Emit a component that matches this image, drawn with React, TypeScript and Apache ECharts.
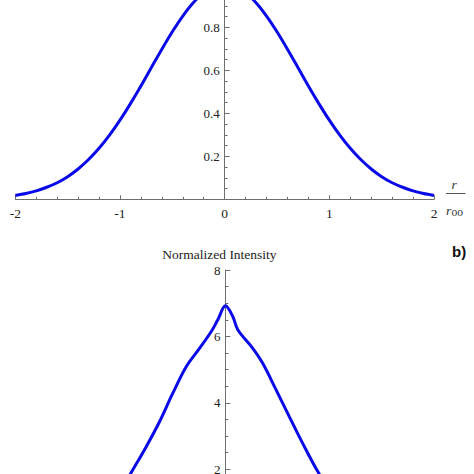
import React, { useEffect, useRef } from "react";
import * as echarts from "echarts";

// Top panel: Gaussian profile vs r / r_oo
const topX = [-2, -1.9, -1.8, -1.7, -1.6, -1.5, -1.4, -1.3, -1.2, -1.1, -1, -0.9, -0.8, -0.7, -0.6, -0.5, -0.4, -0.3, -0.2, -0.1, 0,
  0.1, 0.2, 0.3, 0.4, 0.5, 0.6, 0.7, 0.8, 0.9, 1, 1.1, 1.2, 1.3, 1.4, 1.5, 1.6, 1.7, 1.8, 1.9, 2];
const topY = [0.018, 0.027, 0.039, 0.056, 0.077, 0.105, 0.141, 0.185, 0.237, 0.298, 0.368, 0.445, 0.527, 0.613, 0.698, 0.779, 0.852, 0.914, 0.961, 0.99, 1,
  0.99, 0.961, 0.914, 0.852, 0.779, 0.698, 0.613, 0.527, 0.445, 0.368, 0.298, 0.237, 0.185, 0.141, 0.105, 0.077, 0.056, 0.039, 0.027, 0.018];
const topXTicks = [-2, -1, 0, 1, 2];
const topYTicks = [0.2, 0.4, 0.6, 0.8];

// Bottom panel: Normalized Intensity
const botX = [-1.2, -1.0, -0.9, -0.757, -0.63, -0.503, -0.375, -0.248, -0.137, -0.073, 0, 0.07, 0.118, 0.261, 0.356, 0.484, 0.611, 0.738, 0.882, 1.0, 1.2];
const botY = [0.6, 1.35, 1.9, 2.68, 3.43, 4.29, 5.09, 5.64, 6.14, 6.5, 6.92, 6.6, 6.2, 5.64, 5.19, 4.39, 3.58, 2.78, 1.93, 1.35, 0.6];
const botYTicks = [2, 4, 6, 8];

const BLUE = "#0a0ae8";
const AXIS = "#6e6e6e";
const SERIF = "'Liberation Serif', 'DejaVu Serif', serif";
const GRID_LEFT = 15.3;
const GRID_W = 418.7;
// x = 0 lies at the middle of the [-2, 2] range; move the y axes there
const Y_OFFSET = -GRID_W / 2;

export default function App() {
  const ref = useRef<HTMLDivElement>(null);
  useEffect(() => {
    if (!ref.current) return;
    const chart = echarts.init(ref.current, null, { renderer: "svg" });
    const labelStyle = { color: "#222", fontFamily: SERIF, fontSize: 13 };
    chart.setOption({
      animation: false,
      backgroundColor: "#fff",
      grid: [
        { left: GRID_LEFT, top: -15.7, width: GRID_W, height: 215, containLabel: false, outerBoundsMode: "none" },
        { left: GRID_LEFT + 0.8, top: 270, width: GRID_W, height: 265.7, containLabel: false, outerBoundsMode: "none" },
      ],
      xAxis: [
        {
          type: "value", gridIndex: 0, min: topXTicks[0], max: topXTicks[topXTicks.length - 1], interval: 1,
          axisLine: { show: true, onZero: false, lineStyle: { color: AXIS, width: 1 } },
          axisTick: { show: true, inside: true, length: 4, lineStyle: { color: AXIS } },
          minorTick: { show: true, splitNumber: 5, length: 2.5, lineStyle: { color: AXIS } },
          splitLine: { show: false },
          axisLabel: { ...labelStyle, fontSize: 13.5, margin: 7, showMinLabel: true, showMaxLabel: true,
            formatter: (v: number) => (topXTicks.includes(v) ? String(v) : "") },
        },
        {
          type: "value", gridIndex: 1, min: -2, max: 2, interval: 1, show: false,
          splitLine: { show: false },
        },
      ],
      yAxis: [
        {
          type: "value", gridIndex: 0, min: 0, max: 1, interval: 0.2, offset: Y_OFFSET,
          axisLine: { show: true, onZero: false, lineStyle: { color: AXIS, width: 1 } },
          axisTick: { show: true, inside: true, length: 5, lineStyle: { color: AXIS } },
          minorTick: { show: true, splitNumber: 4, length: 3, lineStyle: { color: AXIS } },
          splitLine: { show: false },
          axisLabel: { ...labelStyle, margin: 5,
            formatter: (v: number) => (topYTicks.some((t) => Math.abs(t - v) < 1e-6) ? v.toFixed(1) : "") },
        },
        {
          type: "value", gridIndex: 1, min: 0, max: 8, interval: 2, offset: Y_OFFSET,
          axisLine: { show: true, onZero: false, lineStyle: { color: AXIS, width: 1 } },
          axisTick: { show: true, inside: true, length: 5, lineStyle: { color: AXIS } },
          minorTick: { show: true, splitNumber: 4, length: 3, lineStyle: { color: AXIS } },
          splitLine: { show: false },
          axisLabel: { ...labelStyle, margin: 5,
            formatter: (v: number) => (botYTicks.includes(v) ? String(v) : "") },
          name: "Normalized Intensity",
          nameLocation: "end",
          nameGap: 9,
          nameTextStyle: { color: "#222", fontFamily: SERIF, fontSize: 13.5, padding: [0, 12, 0, 0] },
        },
      ],
      graphic: [
        { type: "text", left: 451.5, top: 177, style: { text: "r", fontFamily: SERIF, fontStyle: "italic", fontSize: 13.5, fill: "#333" } },
        { type: "line", shape: { x1: 446, y1: 193.5, x2: 465.5, y2: 193.5 }, style: { stroke: "#555", lineWidth: 1 } },
        { type: "text", left: 446, top: 203, style: { text: "r", fontFamily: SERIF, fontStyle: "italic", fontSize: 13.5, fill: "#333" } },
        { type: "text", left: 451.5, top: 206, style: { text: "oo", fontFamily: SERIF, fontSize: 11.5, fill: "#333" } },
        { type: "text", left: 452, top: 244, style: { text: "b)", fontFamily: "'Liberation Sans', Arial, sans-serif", fontWeight: "bold", fontSize: 15, fill: "#111" } },
      ],
      series: [
        {
          type: "line", xAxisIndex: 0, yAxisIndex: 0, showSymbol: false, symbol: "none", smooth: 0.3,
          lineStyle: { color: BLUE, width: 3 },
          data: topX.map((x, i) => [x, topY[i]]),
        },
        {
          type: "line", xAxisIndex: 1, yAxisIndex: 1, showSymbol: false, symbol: "none", smooth: 0.35,
          lineStyle: { color: BLUE, width: 3 },
          data: botX.map((x, i) => [x, botY[i]]),
        },
      ],
    });
    return () => chart.dispose();
  }, []);
  return <div ref={ref} style={{ width: 474, height: 474, position: "absolute", left: 0, top: 0 }} />;
}
